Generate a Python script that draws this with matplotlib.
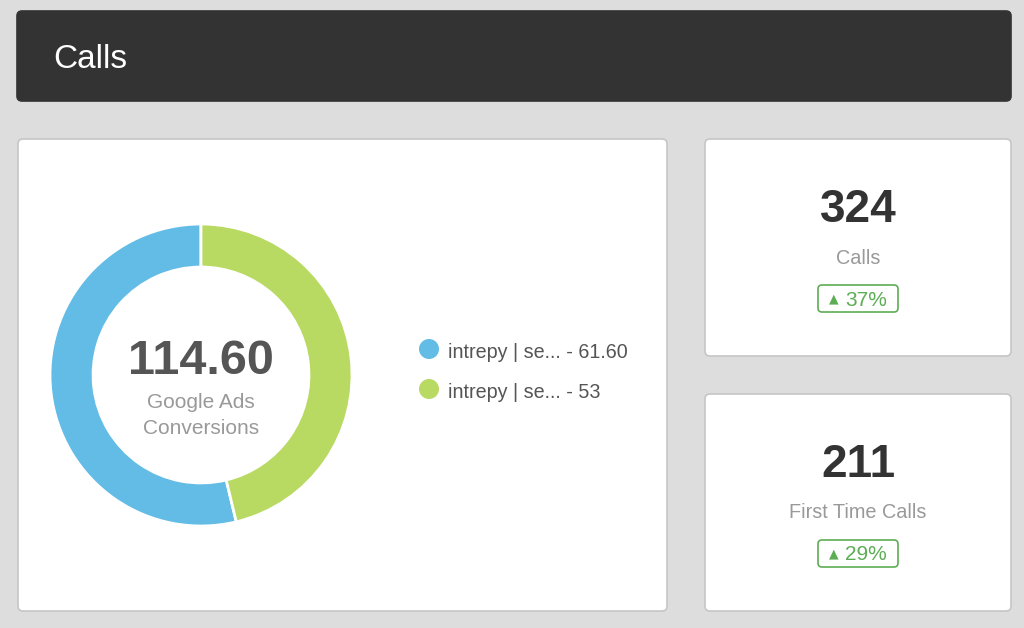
import matplotlib.pyplot as plt
from matplotlib.patches import FancyBboxPatch, Circle

# data
title = "Calls"
slice_names = ["intrepy | se...", "intrepy | se..."]
slice_values = [61.60, 53]
slice_value_labels = ["61.60", "53"]
slice_colors = ["#62bce6", "#b8d962"]
center_label = ["Google Ads", "Conversions"]

kpi_values = [324, 211]
kpi_names = ["Calls", "First Time Calls"]
kpi_changes = [37, 29]

W, H = 1024, 628
BG = "#dddddd"
GREEN = "#5cad54"


def card(ax, x0, y0, x1, y1, face="white", edge="#c6c6c6", r=5):
    ax.add_patch(FancyBboxPatch((x0, y0), x1 - x0, y1 - y0,
                                boxstyle=f"round,pad=0,rounding_size={r}",
                                facecolor=face, edgecolor=edge, linewidth=1.2))


def main():
    plt.rcParams['font.family'] = ['Liberation Sans', 'DejaVu Sans']
    fig = plt.figure(figsize=(W / 100, H / 100), dpi=100)
    fig.patch.set_facecolor(BG)

    ax = fig.add_axes([0, 0, 1, 1])
    ax.set_xlim(0, W)
    ax.set_ylim(H, 0)
    ax.axis("off")

    # header bar
    card(ax, 17, 11, 1011, 101, face="#333333", edge="#333333", r=5)
    ax.text(53, 59, title, color="white", fontsize=24, va="center", ha="left")

    # cards
    card(ax, 18, 139, 667, 611)
    card(ax, 705, 139, 1011, 356)
    card(ax, 705, 394, 1011, 611)

    # donut
    cx, cy, r = 201, 375, 151
    pax = fig.add_axes([(cx - r) / W, (H - cy - r) / H, 2 * r / W, 2 * r / H])
    pax.pie(slice_values, colors=slice_colors, startangle=90, counterclock=True,
            radius=1, wedgeprops=dict(width=0.285, edgecolor="white", linewidth=2))
    pax.set_xlim(-1, 1)
    pax.set_ylim(-1, 1)
    pax.set_aspect("equal")
    pax.axis("off")

    total = sum(slice_values)
    ax.text(cx, 361, f"{total:.2f}", color="#555555", fontsize=35, fontweight="bold",
            ha="center", va="center")
    ax.text(cx, 403, center_label[0], color="#999999", fontsize=15, ha="center", va="center")
    ax.text(cx, 429, center_label[1], color="#999999", fontsize=15, ha="center", va="center")

    # legend
    for i, (name, lab, col) in enumerate(zip(slice_names, slice_value_labels, slice_colors)):
        y = 349 + i * 40
        ax.add_patch(Circle((429, y), 10, facecolor=col, edgecolor="none"))
        ax.text(448, y + 3, f"{name} - {lab}", color="#555555", fontsize=14.2,
                ha="left", va="center")

    # kpi cards
    for i, (val, name, chg) in enumerate(zip(kpi_values, kpi_names, kpi_changes)):
        oy = i * 255
        ax.text(858, 210 + oy, str(val), color="#333333", fontsize=33, fontweight="bold",
                ha="center", va="center")
        ax.text(858, 258 + oy, name, color="#999999", fontsize=14.3, ha="center", va="center")
        card(ax, 818, 285 + oy, 898, 312 + oy, face="white", edge=GREEN, r=4)
        ax.text(834, 299 + oy, "\u25b2", color=GREEN, fontsize=9, ha="center", va="center",
                family="DejaVu Sans")
        ax.text(845, 300 + oy, f"{chg}%", color=GREEN, fontsize=15, ha="left", va="center")

    fig.savefig("out.png", dpi=100, facecolor=BG)


if __name__ == '__main__':
    main()
